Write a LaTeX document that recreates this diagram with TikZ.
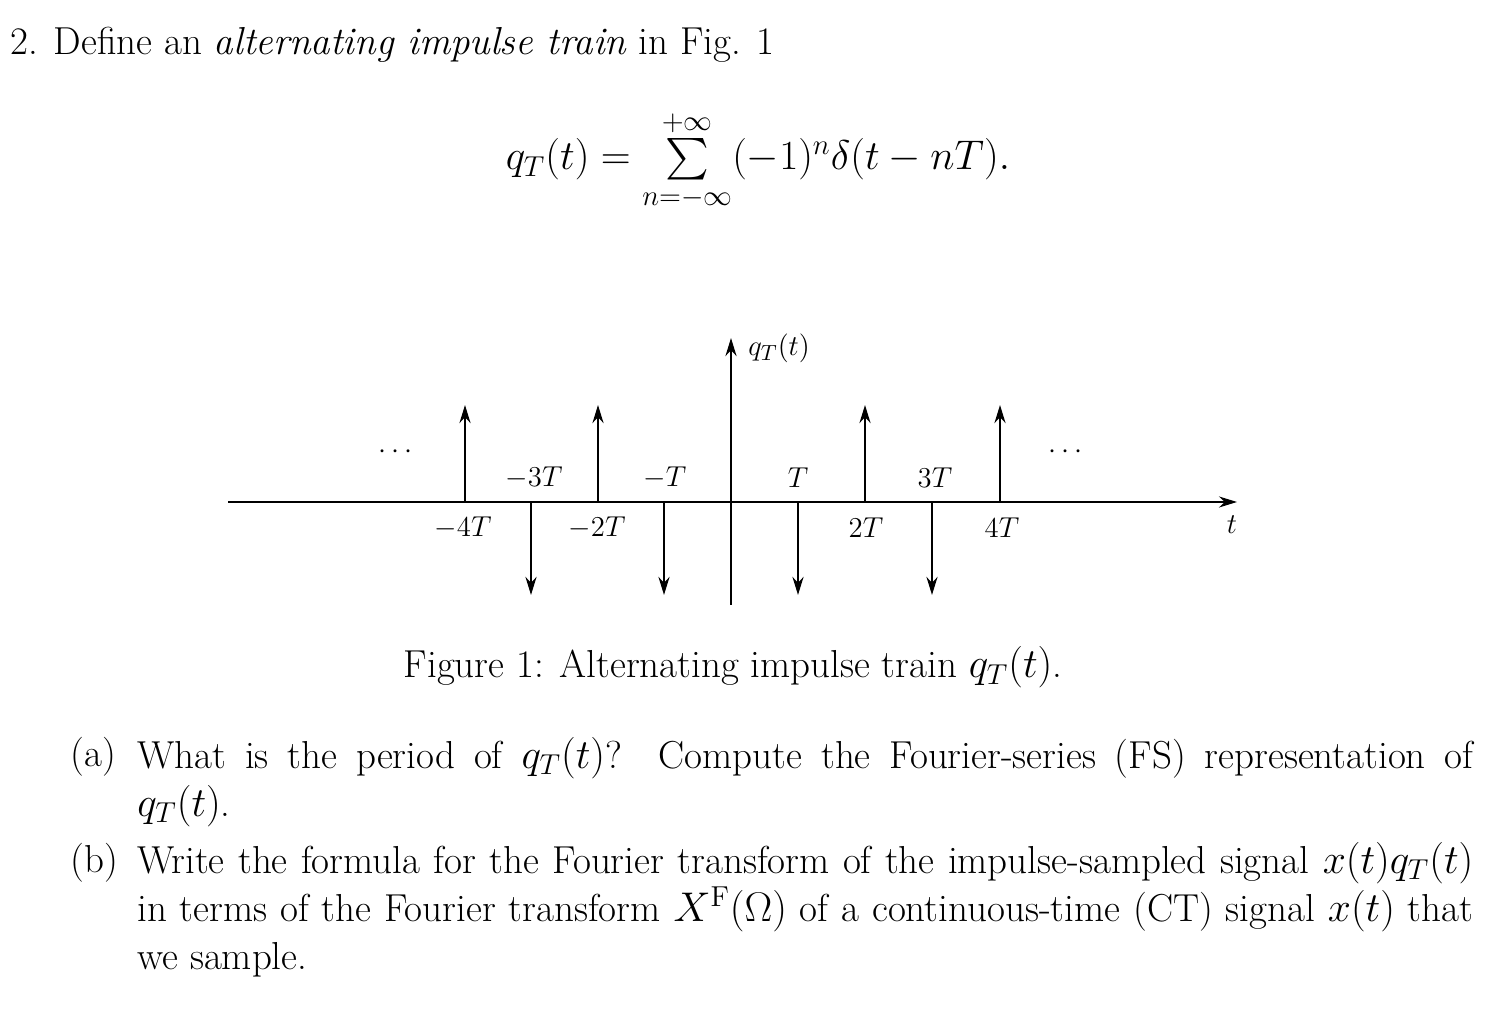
\documentclass[tikz,border=0pt]{standalone}
\usepackage{amsmath}
\usetikzlibrary{arrows.meta}
\begin{document}
\begin{tikzpicture}[x=0.5pt,y=0.5pt,
  txt/.style={inner sep=0pt,font=\fontsize{19.5}{24}\selectfont},
  lab/.style={inner sep=0pt,font=\fontsize{15}{17}\selectfont},
  imp/.style={line width=1.3pt,-{Stealth[length=9pt,width=5.5pt]}},
  axisl/.style={line width=1.3pt}]
\useasboundingbox (0,0) rectangle (1505,-1036);
\node[txt,anchor=base west] (title) at (10,-55) {2. Define an \emph{alternating impulse train} in Fig. 1};
\node[txt,anchor=base] (eq) at (758,-170) {$q_T(t)=\sum\limits_{n=-\infty}^{+\infty}(-1)^n\delta(t-nT).$};
% axes
\coordinate (xl) at (228,-502); \coordinate (xr) at (1237,-502);
\draw[imp,line width=1pt] (xl) -- (xr);
\coordinate (yb) at (731,-605); \coordinate (yt) at (731,-338);
\draw[imp] (yb) -- (yt);
\foreach \k/\x in {-4/465,-2/598,2/865,4/1000}{
  \coordinate (u\k) at (\x,-502); \coordinate (ue\k) at (\x,-405);
  \draw[imp] (u\k) -- (ue\k);}
\foreach \k/\x in {-3/531,-1/664,1/798,3/932}{
  \coordinate (d\k) at (\x,-502); \coordinate (de\k) at (\x,-595);
  \draw[imp] (d\k) -- (de\k);}
\node[lab] (lm3) at (534,-478) {$-3T$};
\node[lab] (lm1) at (665,-478) {$-T$};
\node[lab] (l1) at (798,-478) {$T$};
\node[lab] (l3) at (935,-478) {$3T$};
\node[lab] (lm4) at (463,-528) {$-4T$};
\node[lab] (lm2) at (597,-528) {$-2T$};
\node[lab] (l2) at (866,-528) {$2T$};
\node[lab] (l4) at (1002,-528) {$4T$};
\node[lab] (lt) at (1232,-525) {$t$};
\node[lab,anchor=west] (lq) at (748,-348) {$q_T(t)$};
\node[lab] (dl) at (398,-452) {$\cdots$};
\node[lab] (dr) at (1068,-452) {$\cdots$};
\node[txt,anchor=base] (cap) at (733,-678) {Figure 1: Alternating impulse train $q_T(t)$.};
\node[txt,anchor=base west] (la) at (70,-767) {(a)};
\node[txt,anchor=north west,text width=668pt,align=justify] (ta) at (137,-737) {What is the period of $q_T(t)$? Compute the Fourier-series (FS) representation of\linebreak $q_T(t)$.};
\node[txt,anchor=base west] (lb) at (70,-872) {(b)};
\node[txt,anchor=north west,text width=668pt,align=justify] (tb) at (137,-842) {Write the formula for the Fourier transform of the impulse-sampled signal $x(t)q_T(t)$\linebreak in terms of the Fourier transform $X^{\mathrm F}(\Omega)$ of a continuous-time (CT) signal $x(t)$ that\linebreak we sample.};
\end{tikzpicture}
\end{document}
